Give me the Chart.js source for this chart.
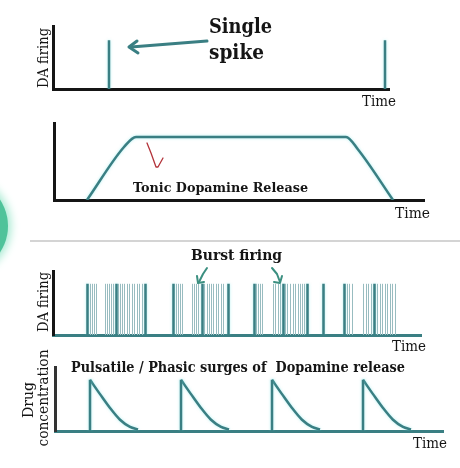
<!DOCTYPE html>
<html>
<head>
<meta charset="utf-8">
<script src="https://cdn.jsdelivr.net/npm/chart.js@4"></script>
<style>
  body { margin: 0; background: #fff; }
  #wrap { position: relative; width: 460px; height: 468px; overflow: hidden; background: #fff; }
  canvas { position: absolute; left: 0; }
  #sep { position: absolute; left: 30px; top: 240px; width: 430px; height: 2px; background: #d4d4d4; }
  #dot { position: absolute; left: -88px; top: 178px; width: 96px; height: 96px; border-radius: 50%;
         background: #4fc39a; box-shadow: 0 0 8px 3px #a8ead2; }
</style>
</head>
<body>
<div id="wrap">
  <div id="dot"></div>
  <div id="sep"></div>
  <canvas id="c1" width="460" height="115" style="top:0px"></canvas>
  <canvas id="c2" width="460" height="115" style="top:115px"></canvas>
  <canvas id="c3" width="460" height="115" style="top:242px"></canvas>
  <canvas id="c4" width="460" height="123" style="top:345px"></canvas>
</div>
<script>
// time values are in arbitrary units along each time axis
const singleSpikes = [56, 332]

const tonicTime = [33, 70, 82, 292, 304, 339]
const tonicLevel = [0, 0.84, 1, 1, 0.8, 0]

const burstMain = [34, 63, 92, 120, 149, 175, 201, 230, 254, 270, 291, 321]
const burstFine = [37, 39, 41, 43, 52, 54, 56, 58, 60, 65, 67, 69, 71, 74, 76, 79, 81, 84, 86, 89,
  123, 125, 127, 129, 139, 141, 143, 145, 151, 154, 156, 158, 160, 163, 165, 168, 170,
  203, 205, 207, 209, 220, 222, 225, 227, 232, 234, 237, 240, 242, 245, 247, 249, 251,
  294, 296, 299, 310, 313, 315, 318, 324, 327, 329, 332, 334, 337, 339, 342]

const pulseStarts = [35, 126, 217, 308]
const decayOffsets = [0, 10, 20, 30, 40, 48]
const decayLevels = [1, 0.72, 0.45, 0.22, 0.08, 0.03]

const TEAL = '#3a7f83'
const LIGHT = '#98bcc0'
const INK = '#151515'
const SERIF = '"DejaVu Serif", serif'

function spikes(times) {
  return times.flatMap(t => [{ x: t, y: 0 }, { x: t, y: 1 }, { x: t, y: null }])
}

function decays(starts) {
  return starts.flatMap(s => decayOffsets.map((d, i) => ({ x: s + d, y: decayLevels[i] })).concat([{ x: s, y: null }]))
}

const notes = {
  id: 'notes',
  beforeDatasetDraw(chart, args) {
    const ctx = chart.ctx
    ctx.save()
    if (chart.data.datasets[args.index].glow) {
      ctx.shadowColor = 'rgba(110,225,230,0.55)'
      ctx.shadowBlur = 3
    }
  },
  afterDatasetDraw(chart) {
    chart.ctx.restore()
  },
  afterDraw(chart, args, opts) {
    const ctx = chart.ctx
    ;(opts.paths || []).forEach(p => {
      ctx.save()
      ctx.strokeStyle = p.color
      ctx.lineWidth = p.width
      ctx.lineCap = 'round'
      ctx.lineJoin = 'round'
      ctx.beginPath()
      p.pts.forEach((pt, i) => i ? ctx.lineTo(pt[0], pt[1]) : ctx.moveTo(pt[0], pt[1]))
      ctx.stroke()
      ctx.restore()
    })
    ;(opts.texts || []).forEach(t => {
      ctx.save()
      ctx.fillStyle = t.color || INK
      ctx.font = t.font
      ctx.textBaseline = t.rot ? 'middle' : 'alphabetic'
      ctx.textAlign = t.rot ? 'center' : 'left'
      ctx.translate(t.x, t.y)
      if (t.rot) ctx.rotate(-Math.PI / 2)
      ctx.fillText(t.t, 0, 0, t.w)
      ctx.restore()
    })
  }
}

function axis(min, max, color) {
  return {
    type: 'linear', min: min, max: max,
    ticks: { display: false },
    grid: { display: false, drawTicks: false },
    border: { display: true, color: color, width: 3 }
  }
}

function make(id, datasets, xRange, yMax, padding, xColor, yColor, note) {
  return new Chart(document.getElementById(id), {
    type: 'line',
    data: { datasets: datasets },
    options: {
      responsive: false,
      animation: false,
      layout: { padding: padding },
      elements: { point: { radius: 0 }, line: { borderCapStyle: 'butt' } },
      scales: { x: axis(xRange[0], xRange[1], xColor), y: axis(0, yMax, yColor) },
      plugins: { legend: { display: false }, tooltip: { enabled: false }, notes: note }
    },
    plugins: [notes]
  })
}

make('c1', [
  { data: spikes(singleSpikes), borderColor: TEAL, borderWidth: 2.5, spanGaps: false, glow: true }
], [0, 336], 1.29, { left: 53, top: 26, right: 71, bottom: 26 }, INK, INK, {
  texts: [
    { t: 'Single', x: 209, y: 33, font: 'bold 21px ' + SERIF, w: 63 },
    { t: 'spike', x: 209, y: 59, font: 'bold 21px ' + SERIF, w: 55 },
    { t: 'DA firing', x: 44, y: 58, font: '14px ' + SERIF, w: 60, rot: true },
    { t: 'Time', x: 362, y: 106, font: '14px ' + SERIF, w: 34 }
  ],
  paths: [
    { pts: [[207, 41], [131, 47]], color: TEAL, width: 3 },
    { pts: [[137, 41], [129, 47], [138, 53]], color: TEAL, width: 3 }
  ]
})

make('c2', [
  { data: tonicTime.map((t, i) => ({ x: t, y: tonicLevel[i] })), borderColor: TEAL, borderWidth: 2.5,
    cubicInterpolationMode: 'monotone', glow: true }
], [0, 370], 1.22, { left: 54, top: 8, right: 36, bottom: 30 }, INK, INK, {
  texts: [
    { t: 'Tonic Dopamine Release', x: 133, y: 77, font: 'bold 13px ' + SERIF, w: 175 },
    { t: 'Time', x: 395, y: 103, font: '14px ' + SERIF, w: 35 }
  ],
  paths: [
    { pts: [[147, 28], [151, 38], [156, 52], [158, 52], [163, 43]], color: '#b3333a', width: 1.3 }
  ]
})

make('c3', [
  { data: spikes(burstFine), borderColor: LIGHT, borderWidth: 1, spanGaps: false },
  { data: spikes(burstMain), borderColor: TEAL, borderWidth: 2.5, spanGaps: false, glow: true }
], [-0.5, 367.5], 1.25, { left: 53, top: 29, right: 39, bottom: 22 }, TEAL, INK, {
  texts: [
    { t: 'Burst firing', x: 191, y: 18, font: 'bold 14px ' + SERIF, w: 91 },
    { t: 'DA firing', x: 44, y: 60, font: '14px ' + SERIF, w: 60, rot: true },
    { t: 'Time', x: 392, y: 109, font: '14px ' + SERIF, w: 34 }
  ],
  paths: [
    { pts: [[207, 26], [203, 32], [199, 40]], color: '#3b8f80', width: 2 },
    { pts: [[197, 34], [198, 41], [204, 40]], color: '#3b8f80', width: 2 },
    { pts: [[272, 26], [277, 32], [280, 40]], color: '#3b8f80', width: 2 },
    { pts: [[274, 40], [280, 41], [282, 34]], color: '#3b8f80', width: 2 }
  ]
})

make('c4', [
  { data: spikes(pulseStarts), borderColor: TEAL, borderWidth: 2.5, spanGaps: false, glow: true },
  { data: decays(pulseStarts), borderColor: TEAL, borderWidth: 2.5, spanGaps: false,
    cubicInterpolationMode: 'monotone', glow: true }
], [0, 388], 1.25, { left: 55, top: 22, right: 17, bottom: 37 }, TEAL, '#333', {
  texts: [
    { t: 'Pulsatile / Phasic surges of  Dopamine release', x: 71, y: 27, font: 'bold 14px ' + SERIF, w: 334 },
    { t: 'Drug', x: 29, y: 55, font: '15px ' + SERIF, w: 36, rot: true },
    { t: 'concentration', x: 44, y: 53, font: '15px ' + SERIF, w: 97, rot: true },
    { t: 'Time', x: 413, y: 103, font: '14px ' + SERIF, w: 34 }
  ]
})
</script>
</body>
</html>
